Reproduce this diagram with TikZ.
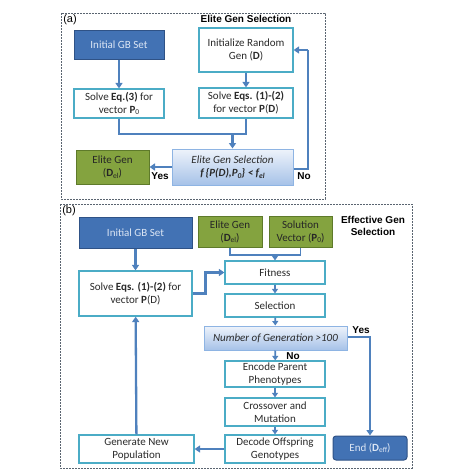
\documentclass[tikz,border=0pt]{standalone}
\usepackage{fontspec}
\setmainfont{Carlito}
\newfontfamily\arialf{Liberation Sans}
\usetikzlibrary{arrows.meta,calc}
\definecolor{dkblue}{HTML}{4272B4}
\definecolor{dkborder}{HTML}{2F5286}
\definecolor{dktext}{HTML}{DCE6F4}
\definecolor{tealb}{HTML}{4BACC6}
\definecolor{greenf}{HTML}{84A33F}
\definecolor{greenb}{HTML}{5E7A2A}
\definecolor{arrc}{HTML}{4F81BD}
\definecolor{gradtop}{HTML}{EEF3FB}
\definecolor{gradbot}{HTML}{A6C2E8}
\definecolor{gradb}{HTML}{8EB4E3}
\definecolor{txt}{HTML}{2A2A2A}
\definecolor{dashc}{HTML}{5A6470}
\newcommand{\subtx}[1]{\raisebox{-0.3ex}{\fontsize{7.5}{8}\selectfont #1}}
\tikzset{
  basebox/.style={minimum width=#1, align=center, inner sep=1pt, font=\fontsize{11}{13}\selectfont, text=txt},
  wbox/.style={basebox=#1, draw=tealb, fill=white, line width=1.2pt},
  bbox/.style={basebox=#1, draw=dkborder, fill=dkblue, line width=1pt, text=dktext},
  gbox/.style={basebox=#1, draw=greenb, fill=greenf, line width=1pt, text=black!85},
  qbox/.style={basebox=#1, draw=gradb, top color=gradtop, bottom color=gradbot, line width=1pt, font=\fontsize{11}{13}\selectfont\itshape},
  arr/.style={draw=arrc, line width=2.3pt, -{Triangle[width=7pt,length=5.5pt]}},
  arrs/.style={draw=arrc, line width=1.7pt, -{Triangle[width=6pt,length=4.5pt]}},
  ln/.style={draw=arrc, line width=2.3pt},
  lns/.style={draw=arrc, line width=1.7pt},
  panel/.style={draw=dashc, dash pattern=on 2pt off 1pt, line width=0.8pt},
  lab/.style={font=\arialf\bfseries\fontsize{10}{12}\selectfont, text=black},
}
\begin{document}
\begin{tikzpicture}[x=1pt,y=-1pt]
\useasboundingbox (0,0) rectangle (474,474);
% panels
\draw[panel] (61,13) rectangle (325,199);
\draw[panel] (60,204) rectangle (412,468);
\node[font=\arialf\fontsize{11}{12}\selectfont] (pa) at (70,20) {(a)};
\node[font=\arialf\fontsize{11}{12}\selectfont] (pb) at (69,211) {(b)};
\node[lab] (ta) at (246,19) {Elite Gen Selection};
\node[lab, align=center] (tb) at (373,226) {Effective Gen\\Selection};

% panel a
\node[bbox=90pt, minimum height=29pt] (gba) at (119,44.5) {Initial GB Set};
\node[wbox=94pt, minimum height=44pt] (init) at (246,50) {Initialize Random\\Gen (\textbf{D})};
\node[wbox=90pt, minimum height=29pt] (s3) at (119,103.5) {Solve \textbf{Eq.(3)} for\\vector \textbf{P}\subtx{0}};
\node[wbox=94pt, minimum height=30pt] (s12a) at (246,103) {Solve \textbf{Eqs. (1)-(2)}\\for vector \textbf{P}(\textbf{D})};
\node[gbox=73pt, minimum height=34pt] (elite) at (112.5,167) {Elite Gen\\(\textbf{D}\subtx{el})};
\node[qbox=121pt, minimum height=36pt] (sel) at (232.5,167) {Elite Gen Selection\\\textbf{f\,\{P(D),P\subtx{0}\} < f\subtx{el}}};

\draw[arr] (gba) -- (s3);
\draw[arr] (init) -- (s12a);
\coordinate (ma) at (232.5,134);
\draw[ln] (s3.south) |- (ma) -| (s12a.south);
\draw[arr] (ma) -- (sel.north);
\draw[arr] (sel.west) -- (elite.east);
\node[lab] (yesa) at (160,176) {Yes};
\coordinate (na) at (308,50);
\draw[ln] ([yshift=-2pt]sel.east) -| (na);
\draw[arr] (na) -- (init.east);
\node[lab] (noa) at (304,176) {No};

% panel b
\node[bbox=113pt, minimum height=31pt] (gbb) at (135.5,232.5) {Initial GB Set};
\node[gbox=64pt, minimum height=31pt] (eliteb) at (230,231.5) {Elite Gen\\(\textbf{D}\subtx{el})};
\node[gbox=63pt, minimum height=31pt] (solv) at (300.5,231.5) {Solution\\Vector (\textbf{P}\subtx{0})};
\node[wbox=100pt, minimum height=23pt] (fit) at (275,272.5) {Fitness};
\node[wbox=113pt, minimum height=45pt] (solveb) at (135.5,293.5) {Solve \textbf{Eqs. (1)-(2)} for\\vector \textbf{P}(D)};
\node[wbox=100pt, minimum height=23pt] (selb) at (275,305.5) {Selection};
\node[qbox=143pt, minimum height=24pt] (num) at (275.5,338) {Number of Generation >100};
\node[wbox=100pt, minimum height=26pt] (enc) at (275,374) {Encode Parent\\Phenotypes};
\node[wbox=100pt, minimum height=28pt] (cross) at (275,412) {Crossover and\\Mutation};
\node[wbox=100pt, minimum height=28pt] (dec) at (275,449) {Decode Offspring\\Genotypes};
\node[wbox=115pt, minimum height=28pt] (gen) at (136.5,449) {Generate New\\Population};
\node[bbox=74pt, minimum height=24pt, rounded corners=3pt] (endn) at (370,448) {End (\textbf{D}\subtx{eff})};

\coordinate (mb) at (275,255);
\draw[lns] (eliteb.south) |- (mb) -| (solv.south);
\draw[arrs] (mb) -- (fit.north);
\draw[arr] (gbb) -- (solveb);
\draw[arr] (solveb.east) -- ++(13,0) |- (fit.west);
\draw[arrs] (fit) -- (selb);
\draw[arrs] (selb) -- (num);
\draw[arrs] (num) -- (enc);
\node[lab] (nob) at (293,356) {No};
\draw[arrs] (enc) -- (cross);
\draw[arrs] (cross) -- (dec);
\draw[arr] (dec) -- (gen);
\draw[arr] (gen) -- (solveb);
\draw[arr] ([yshift=1pt]num.east) -| (endn.north);
\node[lab] (yesb) at (361,330) {Yes};
\end{tikzpicture}
\end{document}
